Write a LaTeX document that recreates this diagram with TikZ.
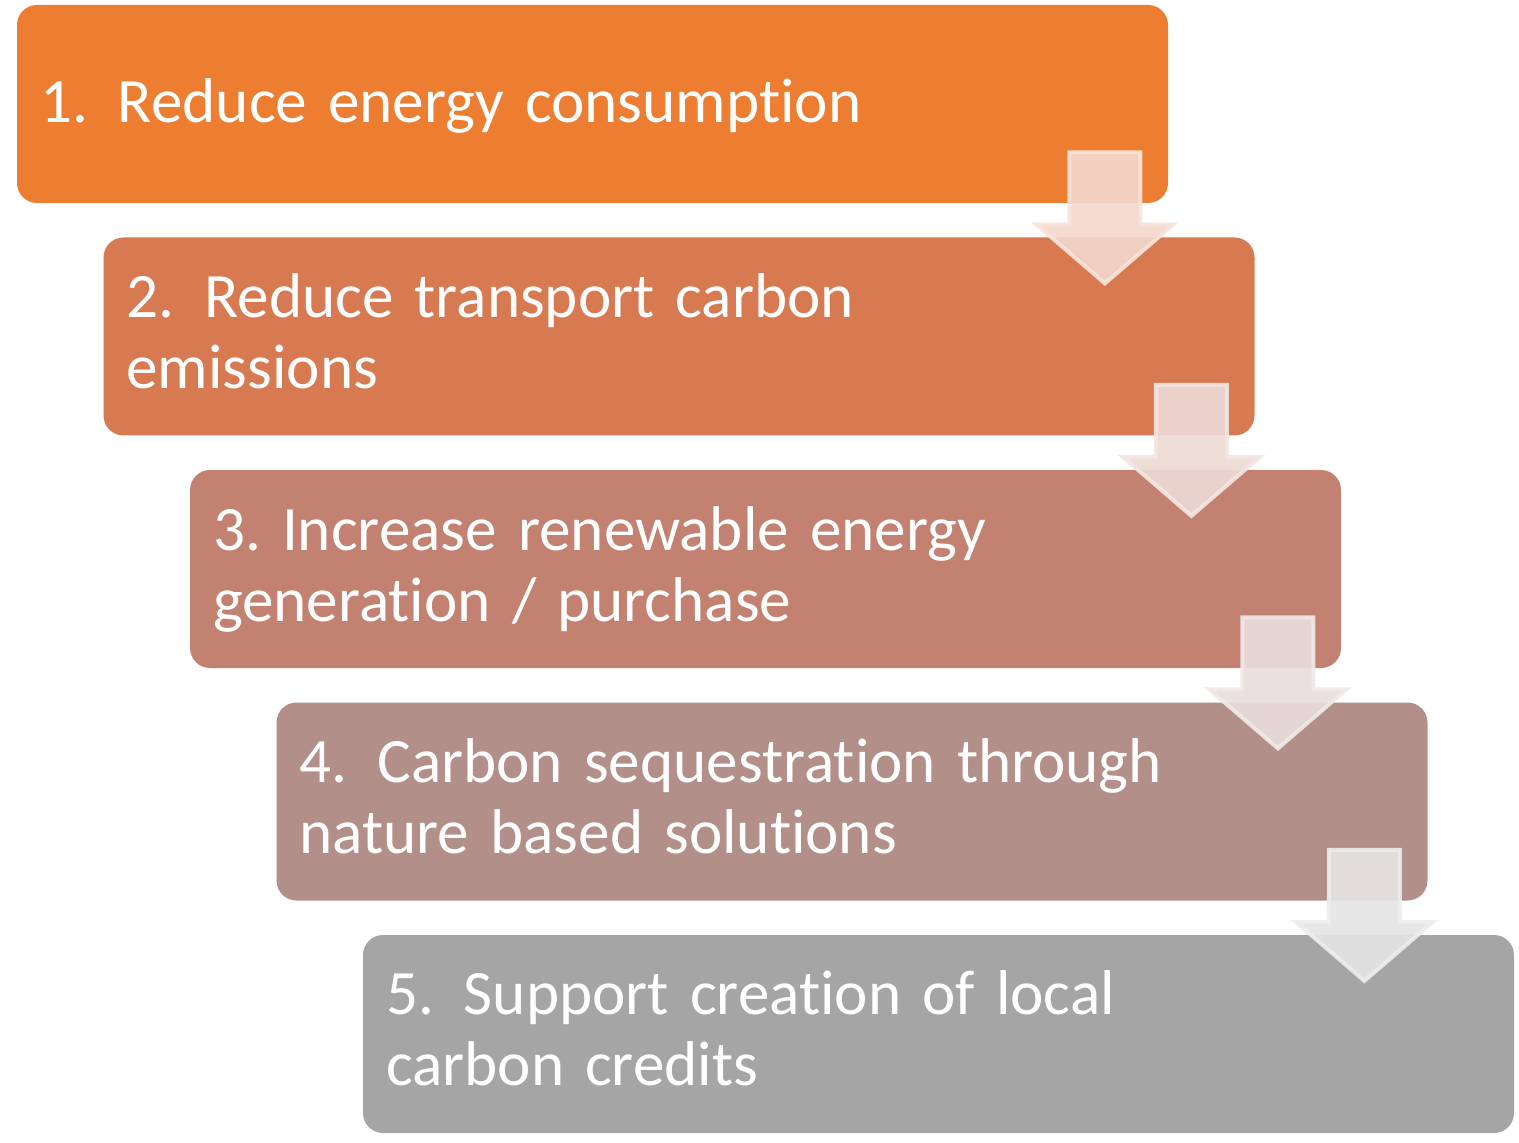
\documentclass[tikz,border=0pt]{standalone}
\usepackage{fontspec}
\setmainfont{Carlito}[Ligatures={NoCommon}]
\usepackage{xcolor}
\usepackage{tikz}

\definecolor{c1}{HTML}{ED7D31}
\definecolor{c2}{HTML}{D77A52}
\definecolor{c3}{HTML}{C38171}
\definecolor{c4}{HTML}{B38F89}
\definecolor{c5}{HTML}{A5A5A5}

\tikzset{
  stepbox/.style={rounded corners=10pt, minimum width=575.5pt, minimum height=99pt, inner sep=0pt, fill=#1},
  steptext/.style={anchor=base west, text=white, inner sep=0pt, text width=560pt, align=left,
    font=\fontsize{31.6}{35.5}\selectfont\frenchspacing},
  steparrow/.style={fill=#1!30!white, fill opacity=0.92, draw=#1!20!white, draw opacity=0.9,
    line width=2pt, line join=miter}
}
\newcommand{\stepno}[1]{\makebox[39pt][l]{#1}}

\begin{document}
\begin{tikzpicture}[x=0.5pt,y=0.5pt]
\useasboundingbox (0,0) rectangle (1519,-1143);
% boxes
\node [stepbox=c1] (b1) at (592.5,-104) {};
\node [stepbox=c2] (b2) at ([shift={(86.5,-232.5)}]b1.center) {};
\node [stepbox=c3] (b3) at ([shift={(86.5,-232.5)}]b2.center) {};
\node [stepbox=c4] (b4) at ([shift={(86.5,-232.5)}]b3.center) {};
\node [stepbox=c5] (b5) at ([shift={(86.5,-232.5)}]b4.center) {};
% texts
\node [steptext] (t1) at ([shift={(23,-118)}]b1.north west) {\stepno{1.}Reduce energy consumption};
\node [steptext] (t2) at ([shift={(23,-80)}]b2.north west) {\stepno{2.}Reduce transport carbon\\emissions};
\node [steptext] (t3) at ([shift={(23,-81)}]b3.north west) {3. Increase renewable energy\\generation / purchase};
\node [steptext] (t4) at ([shift={(23,-80)}]b4.north west) {\stepno{4.}Carbon sequestration through\\nature based solutions};
\node [steptext] (t5) at ([shift={(23,-80)}]b5.north west) {\stepno{5.}Support creation of local\\carbon credits};
% arrows
\foreach \i/\j in {1/2,2/3,3/4,4/5}
  \draw [steparrow=c\j] ([shift={(-99,51)}]b\i.south east) -- ++(71,0) -- ++(0,-72) -- ++(33,0)
    -- ++(-68.5,-59) -- ++(-68.5,59) -- ++(33,0) -- cycle;
\end{tikzpicture}
\end{document}
